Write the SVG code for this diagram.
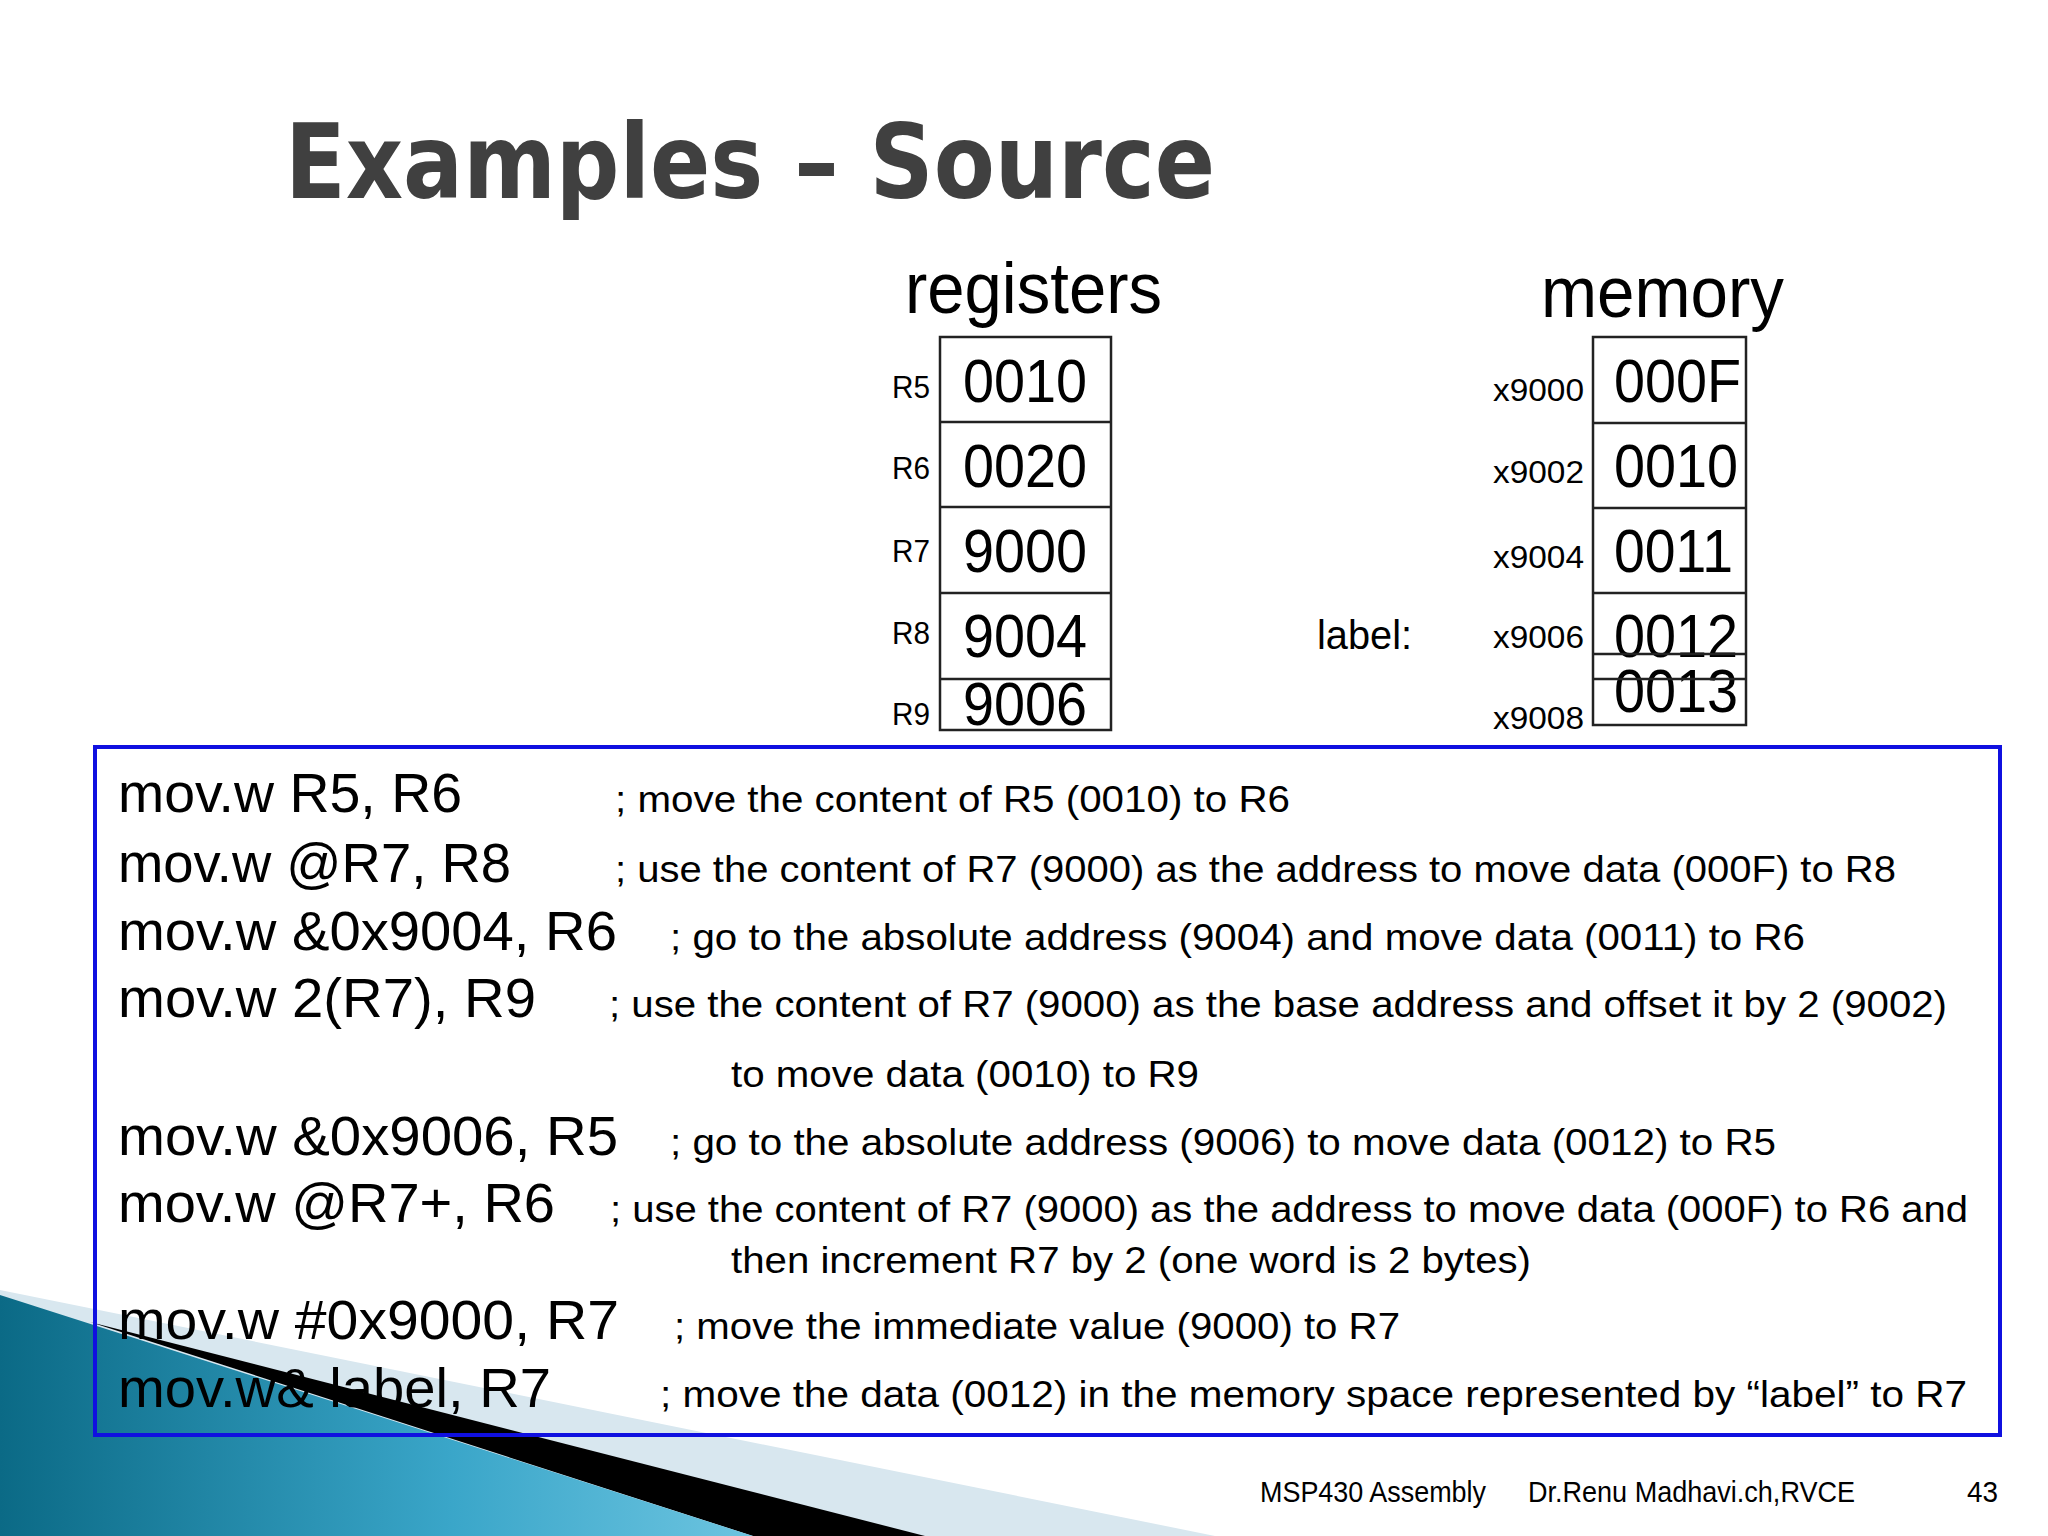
<svg xmlns="http://www.w3.org/2000/svg" width="2048" height="1536" viewBox="0 0 2048 1536">
<defs>
<linearGradient id="teal" x1="0" y1="0" x2="1" y2="0">
<stop offset="0" stop-color="#0b6a86"/><stop offset="0.6" stop-color="#3aa6c9"/><stop offset="1" stop-color="#6cc4e0"/>
</linearGradient>
<style>
.t{font-family:"Liberation Sans",Arial,sans-serif;fill:#000}
.cell{fill:#fff;stroke:#222;stroke-width:2.5}
.val{font-size:62px}
.lab{font-size:31px}
.code{font-size:55px}
.cm{font-size:37px}
</style>
</defs>
<rect width="2048" height="1536" fill="#fff"/>
<g id="decoration">
<polygon points="0,1290 1215,1536 0,1536" fill="#d8e7ef"/>
<polygon points="90,1322 925,1536 753,1536" fill="#000"/>
<polygon points="0,1295 753,1536 0,1536" fill="url(#teal)"/>
</g>
<text x="285" y="198" font-family="'DejaVu Sans',Verdana,sans-serif" font-weight="bold" font-size="104" fill="#404040" textLength="930" lengthAdjust="spacingAndGlyphs">Examples – Source</text>
<g id="registers">
<text class="t" x="905" y="313" font-size="72" textLength="257" lengthAdjust="spacingAndGlyphs">registers</text>
<rect class="cell" x="940" y="337" width="171" height="393"/>
<g stroke="#222" stroke-width="2.5"><line x1="940" y1="422" x2="1111" y2="422"/><line x1="940" y1="507" x2="1111" y2="507"/><line x1="940" y1="593" x2="1111" y2="593"/><line x1="940" y1="679" x2="1111" y2="679"/></g>
<g class="t val"><text x="963" y="402" textLength="124" lengthAdjust="spacingAndGlyphs">0010</text><text x="963" y="487" textLength="124" lengthAdjust="spacingAndGlyphs">0020</text><text x="963" y="572" textLength="124" lengthAdjust="spacingAndGlyphs">9000</text><text x="963" y="657" textLength="124" lengthAdjust="spacingAndGlyphs">9004</text><text x="963" y="725" textLength="124" lengthAdjust="spacingAndGlyphs">9006</text></g>
<g class="t lab"><text x="892" y="398" textLength="38" lengthAdjust="spacingAndGlyphs">R5</text><text x="892" y="479" textLength="38" lengthAdjust="spacingAndGlyphs">R6</text><text x="892" y="562" textLength="38" lengthAdjust="spacingAndGlyphs">R7</text><text x="892" y="644" textLength="38" lengthAdjust="spacingAndGlyphs">R8</text><text x="892" y="725" textLength="38" lengthAdjust="spacingAndGlyphs">R9</text></g>
</g>
<g id="memory">
<text class="t" x="1541" y="317" font-size="72" textLength="243" lengthAdjust="spacingAndGlyphs">memory</text>
<rect class="cell" x="1593" y="337" width="153" height="388"/>
<g stroke="#222" stroke-width="2.5"><line x1="1593" y1="423" x2="1746" y2="423"/><line x1="1593" y1="508" x2="1746" y2="508"/><line x1="1593" y1="593" x2="1746" y2="593"/></g>
<g class="t val"><text x="1614" y="402" textLength="127" lengthAdjust="spacingAndGlyphs">000F</text><text x="1614" y="487" textLength="124" lengthAdjust="spacingAndGlyphs">0010</text><text x="1614" y="572" textLength="119" lengthAdjust="spacingAndGlyphs">0011</text><text x="1614" y="657" textLength="124" lengthAdjust="spacingAndGlyphs">0012</text><text x="1614" y="712" textLength="124" lengthAdjust="spacingAndGlyphs">0013</text></g>
<g stroke="#222" stroke-width="2.5"><line x1="1593" y1="654" x2="1746" y2="654"/><line x1="1593" y1="679" x2="1746" y2="679"/></g>
<g class="t lab"><text x="1493" y="401" textLength="91" lengthAdjust="spacingAndGlyphs">x9000</text><text x="1493" y="483" textLength="91" lengthAdjust="spacingAndGlyphs">x9002</text><text x="1493" y="568" textLength="91" lengthAdjust="spacingAndGlyphs">x9004</text><text x="1493" y="648" textLength="91" lengthAdjust="spacingAndGlyphs">x9006</text><text x="1493" y="729" textLength="91" lengthAdjust="spacingAndGlyphs">x9008</text></g>
<text class="t" x="1317" y="649" font-size="40" textLength="95" lengthAdjust="spacingAndGlyphs">label:</text>
</g>
<g id="code">
<rect x="95" y="747" width="1905" height="688" fill="none" stroke="#1010e0" stroke-width="4"/>
<g class="t code">
<text x="118" y="812" textLength="344" lengthAdjust="spacingAndGlyphs">mov.w R5, R6</text>
<text x="118" y="882" textLength="393" lengthAdjust="spacingAndGlyphs">mov.w @R7, R8</text>
<text x="118" y="950" textLength="499" lengthAdjust="spacingAndGlyphs">mov.w &amp;0x9004, R6</text>
<text x="118" y="1017" textLength="418" lengthAdjust="spacingAndGlyphs">mov.w 2(R7), R9</text>
<text x="118" y="1155" textLength="500" lengthAdjust="spacingAndGlyphs">mov.w &amp;0x9006, R5</text>
<text x="118" y="1222" textLength="437" lengthAdjust="spacingAndGlyphs">mov.w @R7+, R6</text>
<text x="118" y="1339" textLength="501" lengthAdjust="spacingAndGlyphs">mov.w #0x9000, R7</text>
<text x="118" y="1407" textLength="433" lengthAdjust="spacingAndGlyphs">mov.w&amp; label, R7</text>
</g>
<g class="t cm">
<text x="615" y="812" textLength="675" lengthAdjust="spacingAndGlyphs">; move the content of R5 (0010) to R6</text>
<text x="615" y="882" textLength="1281" lengthAdjust="spacingAndGlyphs">; use the content of R7 (9000) as the address to move data (000F) to R8</text>
<text x="670" y="950" textLength="1135" lengthAdjust="spacingAndGlyphs">; go to the absolute address (9004) and move data (0011) to R6</text>
<text x="609" y="1017" textLength="1338" lengthAdjust="spacingAndGlyphs">; use the content of R7 (9000) as the base address and offset it by 2 (9002)</text>
<text x="731" y="1087" textLength="468" lengthAdjust="spacingAndGlyphs">to move data (0010) to R9</text>
<text x="670" y="1155" textLength="1106" lengthAdjust="spacingAndGlyphs">; go to the absolute address (9006) to move data (0012) to R5</text>
<text x="610" y="1222" textLength="1358" lengthAdjust="spacingAndGlyphs">; use the content of R7 (9000) as the address to move data (000F) to R6 and</text>
<text x="731" y="1273" textLength="800" lengthAdjust="spacingAndGlyphs">then increment R7 by 2 (one word is 2 bytes)</text>
<text x="674" y="1339" textLength="726" lengthAdjust="spacingAndGlyphs">; move the immediate value (9000) to R7</text>
<text x="660" y="1407" textLength="1307" lengthAdjust="spacingAndGlyphs">; move the data (0012) in the memory space represented by “label” to R7</text>
</g>
</g>
<g id="footer" class="t" font-size="29">
<text x="1260" y="1502" textLength="226" lengthAdjust="spacingAndGlyphs">MSP430 Assembly</text>
<text x="1528" y="1502" textLength="327" lengthAdjust="spacingAndGlyphs">Dr.Renu Madhavi.ch,RVCE</text>
<text x="1967" y="1502" textLength="31" lengthAdjust="spacingAndGlyphs">43</text>
</g>
</svg>
